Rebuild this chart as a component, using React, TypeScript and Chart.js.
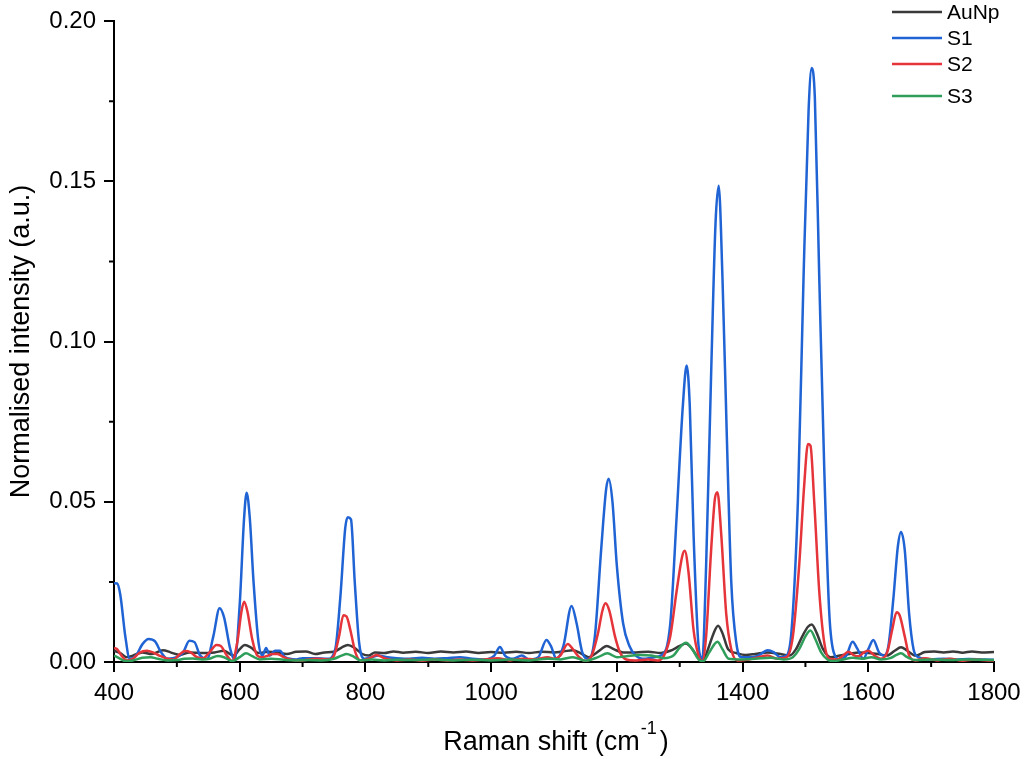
import React, { useEffect, useRef } from "react";
import { Chart, registerables } from "chart.js";

Chart.register(...registerables);

// ---------- data (Raman shift in cm-1, normalised intensity) ----------
const seriesNames = ["AuNp", "S1", "S2", "S3"];
const seriesColors = ["#3a3a3a", "#1f63d4", "#e5343a", "#2f9e5a"];

const auNpX = [400,410,420,430,445,460,478,490,505,520,540,560,575,590,600,608,618,630,645,660,675,690,705,720,735,750,762,772,782,795,805,815,830,845,860,880,900,920,940,960,980,1000,1020,1040,1060,1080,1100,1115,1130,1142,1155,1165,1175,1184,1195,1210,1230,1250,1270,1285,1300,1310,1320,1330,1337,1345,1354,1361,1368,1377,1390,1405,1420,1440,1460,1475,1485,1495,1504,1510,1518,1528,1540,1555,1570,1585,1600,1615,1630,1642,1652,1662,1675,1690,1705,1720,1735,1750,1765,1780,1800];
const auNpY = [0.0035,0.0028,0.0015,0.002,0.003,0.0025,0.0037,0.003,0.0022,0.003,0.0028,0.003,0.0035,0.002,0.004,0.0053,0.0045,0.0028,0.0032,0.003,0.0025,0.0032,0.0033,0.0025,0.003,0.0032,0.0045,0.0053,0.0045,0.0025,0.002,0.003,0.0028,0.0033,0.0029,0.0032,0.0028,0.0033,0.003,0.0033,0.0028,0.0031,0.0029,0.0032,0.0028,0.0032,0.003,0.0033,0.0037,0.0028,0.0015,0.0025,0.004,0.005,0.004,0.003,0.003,0.0032,0.0028,0.0035,0.005,0.0058,0.004,0.0012,0.0005,0.004,0.009,0.0113,0.009,0.004,0.0028,0.0022,0.0025,0.003,0.0025,0.002,0.004,0.008,0.011,0.0117,0.009,0.004,0.0015,0.002,0.0025,0.003,0.0028,0.0025,0.002,0.0035,0.0046,0.0035,0.002,0.0031,0.0033,0.003,0.0033,0.0029,0.0033,0.003,0.0031];

const s1X = [400,405,410,418,425,435,445,455,465,475,485,500,510,520,528,537,548,558,568,575,585,592,600,607,611,616,622,630,636,642,648,656,664,672,690,700,720,740,752,760,768,772,777,783,790,798,810,820,835,850,870,890,910,930,950,970,990,1005,1014,1022,1035,1049,1060,1075,1088,1095,1104,1115,1128,1136,1145,1155,1165,1175,1183,1187,1193,1200,1210,1220,1230,1245,1260,1270,1285,1295,1305,1311,1316,1322,1330,1336,1342,1350,1357,1362,1368,1375,1382,1390,1398,1410,1425,1440,1450,1460,1470,1478,1488,1497,1505,1510,1515,1522,1530,1538,1545,1555,1565,1575,1583,1592,1600,1608,1617,1625,1632,1640,1647,1652,1658,1665,1672,1680,1700,1720,1740,1760,1780,1800];
const s1Y = [0.0246,0.0245,0.021,0.008,0.001,0.002,0.0055,0.0072,0.0065,0.003,0.001,0.0015,0.003,0.0066,0.0062,0.002,0.001,0.008,0.0168,0.014,0.004,0.0006,0.018,0.045,0.0528,0.045,0.025,0.006,0.002,0.0044,0.002,0.0035,0.0035,0.0015,0.0008,0.0012,0.0012,0.001,0.004,0.02,0.042,0.0452,0.0445,0.025,0.006,0.001,0.0015,0.002,0.0015,0.0012,0.001,0.0013,0.001,0.0012,0.0015,0.001,0.0008,0.002,0.0047,0.002,0.001,0.002,0.0008,0.0015,0.0069,0.005,0.001,0.005,0.0175,0.012,0.003,0.001,0.008,0.035,0.054,0.0572,0.05,0.03,0.012,0.005,0.002,0.001,0.0015,0.002,0.012,0.045,0.08,0.0925,0.08,0.04,0.005,0.001,0.03,0.09,0.137,0.1486,0.12,0.07,0.025,0.006,0.0015,0.0015,0.002,0.0037,0.003,0.0015,0.002,0.01,0.05,0.12,0.172,0.1853,0.176,0.12,0.06,0.015,0.003,0.0008,0.002,0.0063,0.004,0.001,0.004,0.0069,0.003,0.002,0.005,0.02,0.036,0.0406,0.035,0.015,0.004,0.0015,0.0008,0.001,0.0008,0.0009,0.0008,0.0007];

const s2X = [400,405,412,420,430,440,452,462,472,485,495,505,513,522,532,542,552,563,570,578,588,596,603,607,612,620,628,636,645,652,660,670,680,700,720,740,750,758,765,770,776,784,792,805,818,830,850,870,890,910,930,950,970,990,1010,1030,1050,1070,1090,1100,1110,1122,1130,1140,1150,1160,1170,1177,1182,1188,1197,1205,1215,1230,1250,1265,1275,1285,1295,1304,1308,1314,1322,1330,1336,1342,1350,1356,1360,1366,1374,1382,1392,1410,1425,1440,1455,1470,1480,1490,1498,1504,1508,1514,1522,1530,1538,1550,1560,1568,1578,1585,1593,1600,1610,1620,1630,1638,1645,1650,1658,1665,1675,1690,1710,1730,1750,1770,1790,1800];
const s2Y = [0.0044,0.004,0.002,0.0005,0.001,0.0028,0.0035,0.003,0.002,0.001,0.0008,0.0025,0.0034,0.003,0.0015,0.0012,0.003,0.0053,0.005,0.0025,0.0003,0.006,0.016,0.0188,0.016,0.007,0.002,0.0015,0.002,0.0025,0.0025,0.0015,0.0008,0.0005,0.001,0.0008,0.002,0.008,0.0146,0.0142,0.01,0.003,0.0005,0.001,0.0022,0.0012,0.0005,0.0008,0.0004,0.0008,0.0005,0.0008,0.0005,0.0008,0.0012,0.0005,0.001,0.0008,0.0015,0.001,0.002,0.0056,0.004,0.0015,0.0003,0.002,0.009,0.016,0.0183,0.016,0.008,0.003,0.0008,0.0005,0.0008,0.0005,0.002,0.008,0.022,0.033,0.0347,0.028,0.01,0.002,0.0003,0.008,0.035,0.051,0.053,0.04,0.015,0.004,0.0005,0.0008,0.0015,0.002,0.001,0.0015,0.008,0.03,0.055,0.068,0.0675,0.05,0.022,0.006,0.001,0.0008,0.002,0.0032,0.002,0.0018,0.003,0.0035,0.002,0.001,0.003,0.01,0.0155,0.0145,0.008,0.002,0.0005,0.0012,0.0005,0.001,0.0004,0.0008,0.0005,0.0005];

const s3X = [400,408,418,430,445,458,470,485,500,512,525,540,552,565,575,588,600,610,620,632,650,670,690,710,730,750,762,770,780,792,810,830,850,880,910,940,970,1000,1030,1060,1090,1110,1130,1150,1170,1185,1200,1215,1235,1255,1275,1290,1300,1310,1320,1330,1337,1347,1355,1360,1368,1378,1395,1420,1445,1465,1480,1490,1500,1508,1516,1525,1535,1545,1560,1575,1590,1605,1620,1635,1645,1652,1662,1675,1700,1730,1760,1800];
const s3Y = [0.002,0.0012,0.0003,0.0005,0.0013,0.0015,0.001,0.0005,0.0006,0.001,0.0011,0.0008,0.001,0.0019,0.0015,0.0003,0.0015,0.0027,0.0018,0.0008,0.001,0.0007,0.0005,0.0006,0.0005,0.001,0.002,0.0025,0.0018,0.0005,0.0008,0.0005,0.0007,0.0006,0.0008,0.0005,0.0007,0.0005,0.0008,0.0005,0.001,0.0008,0.0015,0.0004,0.0015,0.0027,0.0015,0.0018,0.0022,0.002,0.0012,0.002,0.0045,0.006,0.004,0.0008,0.0002,0.003,0.0055,0.0063,0.004,0.001,0.0008,0.001,0.0013,0.0008,0.0015,0.004,0.008,0.0098,0.007,0.003,0.0008,0.0003,0.0008,0.0013,0.001,0.0015,0.0008,0.0012,0.0022,0.0027,0.0015,0.0006,0.0008,0.0006,0.0008,0.0006];

const seriesX = [auNpX, s1X, s2X, s3X];
const seriesY = [auNpY, s1Y, s2Y, s3Y];

const xMin = 400, xMax = 1800, xStep = 200;
const yMin = 0, yMax = 0.2, yStep = 0.05;
const xMinorTicks = [500, 700, 900, 1100, 1300, 1500, 1700];
const yMinorTicks = [0.025, 0.075, 0.125, 0.175];

const xTitleMain = "Raman shift (cm";
const xTitleSup = "-1";
const xTitleEnd = ")";
const yTitle = "Normalised intensity (a.u.)";

const FONT = "'Liberation Sans', Arial, sans-serif";

const minorTicksPlugin = {
  id: "minorTicks",
  afterDraw(chart: any) {
    const { ctx, chartArea, scales } = chart;
    ctx.save();
    ctx.strokeStyle = "#000";
    ctx.lineWidth = 2;
    ctx.beginPath();
    xMinorTicks.forEach((v) => {
      const px = scales.x.getPixelForValue(v);
      ctx.moveTo(px, chartArea.bottom);
      ctx.lineTo(px, chartArea.bottom + 5);
    });
    yMinorTicks.forEach((v) => {
      const py = scales.y.getPixelForValue(v);
      ctx.moveTo(chartArea.left, py);
      ctx.lineTo(chartArea.left - 5, py);
    });
    ctx.stroke();
    ctx.restore();
  },
};

const xTitlePlugin = {
  id: "xTitle",
  afterDraw(chart: any) {
    const { ctx, chartArea } = chart;
    const mainFont = `27px ${FONT}`;
    const supFont = `18px ${FONT}`;
    ctx.save();
    ctx.fillStyle = "#000";
    ctx.textBaseline = "alphabetic";
    ctx.textAlign = "left";
    ctx.font = mainFont;
    const w1 = ctx.measureText(xTitleMain).width;
    const w3 = ctx.measureText(xTitleEnd).width;
    ctx.font = supFont;
    const w2 = ctx.measureText(xTitleSup).width;
    const total = w1 + w2 + w3 + 4;
    const cx = (chartArea.left + chartArea.right) / 2 + 2;
    let x = cx - total / 2;
    const base = 750;
    ctx.font = mainFont;
    ctx.fillText(xTitleMain, x, base);
    x += w1 + 1;
    ctx.font = supFont;
    ctx.fillText(xTitleSup, x, base - 16);
    x += w2 + 3;
    ctx.font = mainFont;
    ctx.fillText(xTitleEnd, x, base);
    ctx.restore();
  },
};

const legendPlugin = {
  id: "customLegend",
  afterDraw(chart: any) {
    const { ctx } = chart;
    const rowsY = [12, 38, 64, 96];
    ctx.save();
    ctx.font = `21px ${FONT}`;
    ctx.textBaseline = "middle";
    ctx.textAlign = "left";
    seriesNames.forEach((name, i) => {
      const y = rowsY[i];
      ctx.strokeStyle = seriesColors[i];
      ctx.lineWidth = 2.5;
      ctx.beginPath();
      ctx.moveTo(892, y);
      ctx.lineTo(942, y);
      ctx.stroke();
      ctx.fillStyle = "#000";
      ctx.fillText(name, 947, y + 1);
    });
    ctx.restore();
  },
};

export default function App() {
  const canvasRef = useRef<HTMLCanvasElement | null>(null);

  useEffect(() => {
    if (!canvasRef.current) return;
    const datasets = seriesNames.map((name, i) => ({
      label: name,
      data: seriesX[i].map((x, j) => ({ x, y: seriesY[i][j] })),
      borderColor: seriesColors[i],
      backgroundColor: seriesColors[i],
      borderWidth: 2.5,
      pointRadius: 0,
      fill: false,
      cubicInterpolationMode: "monotone" as const,
      order: seriesNames.length - i,
    }));

    const chart = new Chart(canvasRef.current, {
      type: "line",
      data: { datasets },
      options: {
        animation: false,
        responsive: true,
        maintainAspectRatio: false,
        layout: { padding: { top: 21, right: 31, left: 0, bottom: 0 } },
        plugins: {
          legend: { display: false },
          tooltip: { enabled: false },
        },
        scales: {
          x: {
            type: "linear",
            min: xMin,
            max: xMax,
            ticks: {
              stepSize: xStep,
              color: "#000",
              font: { family: FONT, size: 24 },
              padding: 7,
              maxRotation: 0,
              callback: (v: any) => String(v),
            },
            grid: {
              drawOnChartArea: false,
              drawTicks: true,
              tickLength: 10,
              color: "#000",
              lineWidth: 2,
            },
            border: { display: true, color: "#000", width: 2 },
            title: { display: false },
            afterFit(scale: any) {
              scale.height = 97;
              scale.paddingLeft = 0;
              scale.paddingRight = 0;
            },
          },
          y: {
            type: "linear",
            min: yMin,
            max: yMax,
            ticks: {
              stepSize: yStep,
              color: "#000",
              font: { family: FONT, size: 24 },
              padding: 8,
              callback: (v: any) => Number(v).toFixed(2),
            },
            grid: {
              drawOnChartArea: false,
              drawTicks: true,
              tickLength: 10,
              color: "#000",
              lineWidth: 2,
            },
            border: { display: true, color: "#000", width: 2 },
            title: {
              display: true,
              text: yTitle,
              color: "#000",
              font: { family: FONT, size: 27 },
              padding: { top: 5, bottom: 0 },
            },
            afterFit(scale: any) {
              scale.width = 114;
              scale.paddingTop = 0;
              scale.paddingBottom = 0;
            },
          },
        },
      },
      plugins: [minorTicksPlugin, xTitlePlugin, legendPlugin],
    });
    return () => chart.destroy();
  }, []);

  return (
    <div style={{ position: "absolute", left: 0, top: 0, width: 1025, height: 759, background: "#fff" }}>
      <canvas ref={canvasRef} />
    </div>
  );
}
